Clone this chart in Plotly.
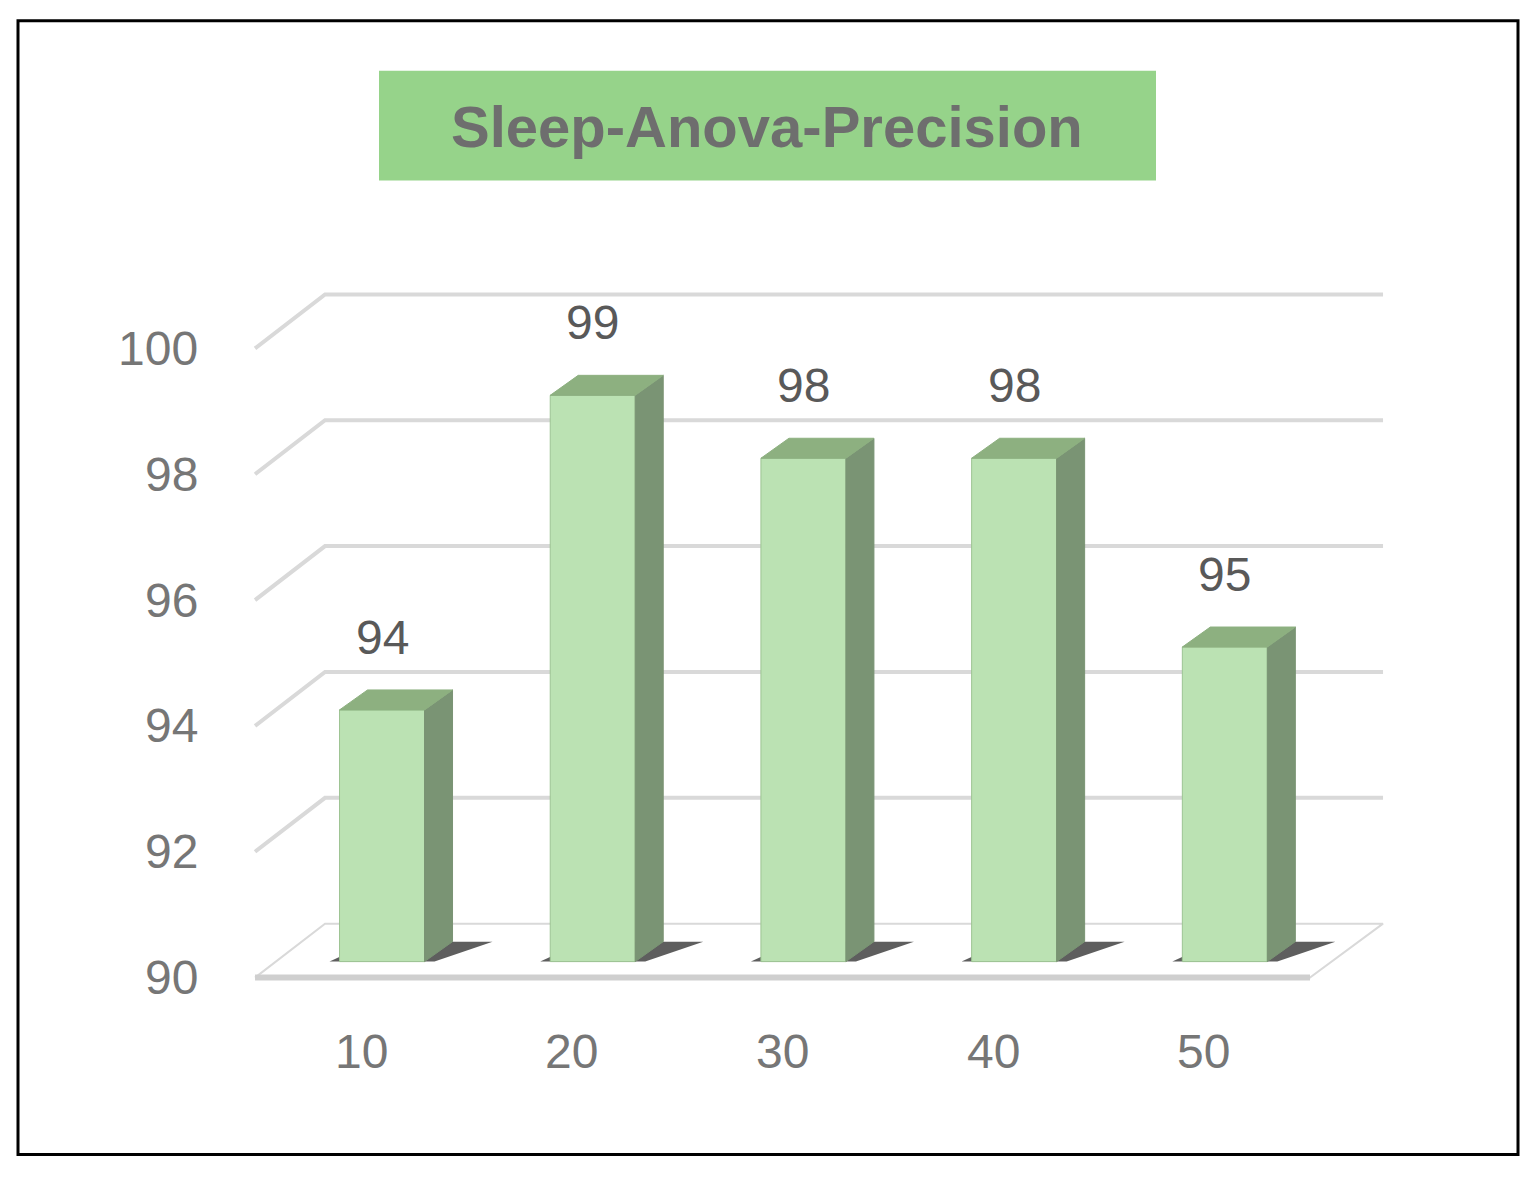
import plotly.graph_objects as go

categories = ["10", "20", "30", "40", "50"]
values = [94, 99, 98, 98, 95]
y_ticks = [90, 92, 94, 96, 98, 100]

W, H = 1533, 1177
S = 8  # page body margin
PL, PT, PW, PH = 224, 237.5, 1201, 819  # plot area in screen pixels
x_range = [-0.75, 4.95]
y_range = [88.5, 101.5]
px_x = PW / (x_range[1] - x_range[0])   # px per x unit
px_y = PH / (y_range[1] - y_range[0])   # px per y unit


def dx(p):
    return p / px_x


def dy(p):
    return p / px_y


def px(x):  # screen pixel -> paper x
    return (x - PL) / PW


def py(y):  # screen pixel -> paper y
    return 1 - (y - PT) / PH


def vy(v):  # value on front plane -> paper y
    return py(962 + 16 - (v - 90) * px_y)


grey = "#767676"
front_c, side_c, top_c = "#BBE2B3", "#7A9474", "#8DB080"
hw = dx(42.5)
ox, oy = dx(28), dy(20)

fig = go.Figure()

# floor
fx0, fx1, bx0, bx1 = dx(255 - 382), dx(1310 - 382), dx(325 - 382), dx(1383 - 382)
f_front, f_back = 90 - dy(16), 90 + dy(38)
fig.add_trace(go.Scatter(x=[fx0, fx1, bx1, bx0, fx0], y=[f_front, f_front, f_back, f_back, f_front],
                         fill="toself", fillcolor="white", mode="lines",
                         line=dict(color="#D9D9D9", width=2), hoverinfo="skip", showlegend=False))
fig.add_trace(go.Scatter(x=[fx0, fx1], y=[f_front, f_front], mode="lines",
                         line=dict(color="#CFCFCF", width=6), hoverinfo="skip", showlegend=False))

# gridlines (diagonal + back)
for v in y_ticks[1:]:
    fig.add_trace(go.Scatter(x=[fx0, bx0, bx1], y=[v - dy(16), v + dy(38), v + dy(38)], mode="lines",
                             line=dict(color="#D9D9D9", width=4), hoverinfo="skip", showlegend=False))

for i, v in enumerate(values):
    # shadow
    fig.add_trace(go.Scatter(x=[i - hw - dx(10), i + hw + dx(10), i + hw + ox + dx(40), i - hw + ox + dx(5), i - hw - dx(10)],
                             y=[90, 90, 90 + oy, 90 + oy, 90], fill="toself", fillcolor="rgba(40,40,40,0.75)",
                             mode="lines", line=dict(width=0), hoverinfo="skip", showlegend=False))
    # front face
    fig.add_trace(go.Scatter(x=[i - hw, i + hw, i + hw, i - hw, i - hw], y=[90, 90, v, v, 90],
                             fill="toself", fillcolor=front_c, mode="lines",
                             line=dict(color="#9DC493", width=1), hoverinfo="skip", showlegend=False))
    # side face
    fig.add_trace(go.Scatter(x=[i + hw, i + hw + ox, i + hw + ox, i + hw, i + hw], y=[90, 90 + oy, v + oy, v, 90],
                             fill="toself", fillcolor=side_c, mode="lines",
                             line=dict(color=side_c, width=1), hoverinfo="skip", showlegend=False))
    # top face
    fig.add_trace(go.Scatter(x=[i - hw, i + hw, i + hw + ox, i - hw + ox, i - hw], y=[v, v, v + oy, v + oy, v],
                             fill="toself", fillcolor=top_c, mode="lines",
                             line=dict(color=top_c, width=1), hoverinfo="skip", showlegend=False))
    fig.add_annotation(x=i, y=v + dy(73), text=str(v), showarrow=False, yanchor="middle",
                       font=dict(size=48, color="#595959"))
    fig.add_annotation(x=i - dx(21), y=90 - dy(90), text=categories[i], showarrow=False, yanchor="middle",
                       font=dict(size=48, color=grey))

for v in y_ticks:
    fig.add_annotation(xref="paper", yref="paper", x=px(200), y=vy(v), text=str(v), showarrow=False,
                       xanchor="right", yanchor="middle", font=dict(size=48, color=grey))

# border and title box
fig.add_shape(type="rect", xref="paper", yref="paper", x0=px(18), x1=px(1518), y0=py(1155), y1=py(20),
              line=dict(color="black", width=3), layer="below")
fig.add_shape(type="rect", xref="paper", yref="paper", x0=px(379), x1=px(1156), y0=py(180), y1=py(70),
              fillcolor="#96D38A", line=dict(width=0), layer="below")
fig.add_annotation(xref="paper", yref="paper", x=px(767), y=py(126), text="<b>Sleep-Anova-Precision</b>",
                   showarrow=False, xanchor="center", yanchor="middle", font=dict(size=58, color="#6E6E6E"))

fig.update_layout(width=W - 2 * S, height=H - 2 * S,
                  margin=dict(l=PL - S, r=W - 2 * S - (PL - S) - PW, t=PT - S, b=H - 2 * S - (PT - S) - PH),
                  paper_bgcolor="white", plot_bgcolor="white",
                  font=dict(family="Liberation Sans"),
                  xaxis=dict(range=x_range, visible=False, fixedrange=True),
                  yaxis=dict(range=y_range, visible=False, fixedrange=True))
fig.write_html("out.html")
